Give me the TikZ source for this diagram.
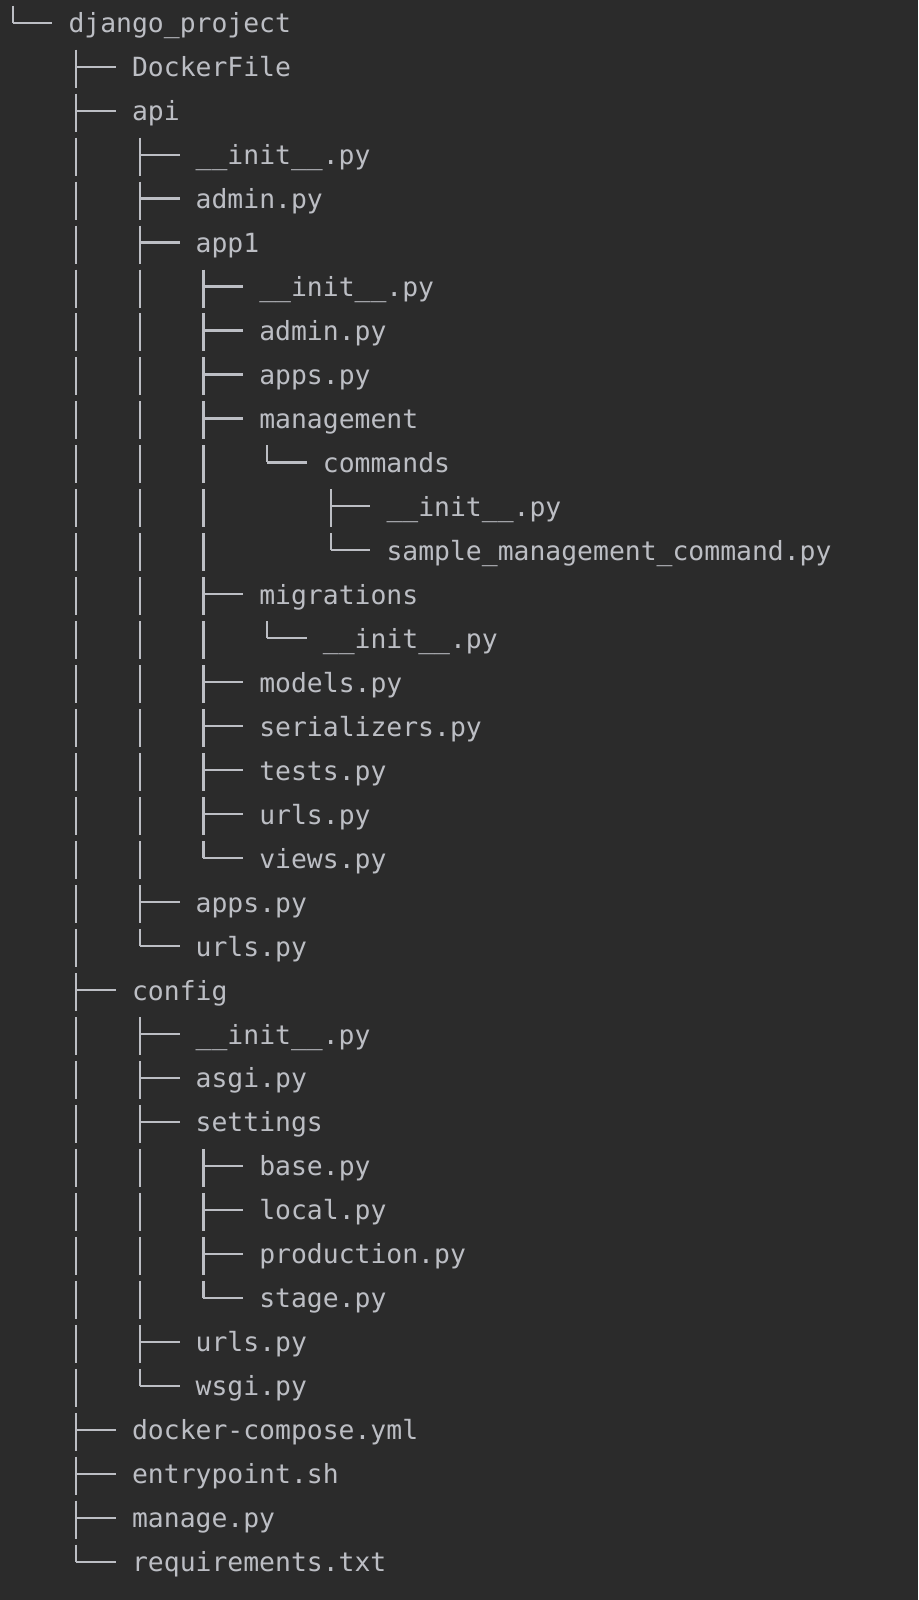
\documentclass[tikz,border=0pt]{standalone}
\usepackage{fontspec}
\setmonofont{DejaVu Sans Mono}
\usepackage{tikz}
\usetikzlibrary{calc}

\definecolor{termbg}{HTML}{2B2B2B}
\definecolor{termfg}{HTML}{BCBEC4}

\begin{document}
\begin{tikzpicture}[x=1pt,y=-1pt,
    entry/.style={anchor=base west,inner sep=0pt,text=termfg,font=\ttfamily\fontsize{26.4}{30}\selectfont},
    treeline/.style={draw=termfg,line width=2.2pt}]
  \fill[termbg] (0,0) rectangle (918,1600);
  \useasboundingbox (0,0) rectangle (918,1600);
  % one column coordinate per tree level
  \foreach \c in {0,...,5}
    \coordinate (c\c) at ({12.65+63.6*\c},0);
  % rows: number / level / bar length (38 tee, 17 last) / text
  \foreach \r/\l/\v/\t in {
      0/0/17/django\_project,
      1/1/38/DockerFile,
      2/1/38/api,
      3/2/38/\_\_init\_\_.py,
      4/2/38/admin.py,
      5/2/38/app1,
      6/3/38/\_\_init\_\_.py,
      7/3/38/admin.py,
      8/3/38/apps.py,
      9/3/38/management,
      10/4/17/commands,
      11/5/38/\_\_init\_\_.py,
      12/5/17/sample\_management\_command.py,
      13/3/38/migrations,
      14/4/17/\_\_init\_\_.py,
      15/3/38/models.py,
      16/3/38/serializers.py,
      17/3/38/tests.py,
      18/3/38/urls.py,
      19/3/17/views.py,
      20/2/38/apps.py,
      21/2/17/urls.py,
      22/1/38/config,
      23/2/38/\_\_init\_\_.py,
      24/2/38/asgi.py,
      25/2/38/settings,
      26/3/38/base.py,
      27/3/38/local.py,
      28/3/38/production.py,
      29/3/17/stage.py,
      30/2/38/urls.py,
      31/2/17/wsgi.py,
      32/1/38/docker-compose.yml,
      33/1/38/entrypoint.sh,
      34/1/38/manage.py,
      35/1/17/requirements.txt} {
    \node[entry] (r\r) at ({4.7+63.6*(\l+1)},{32.7+43.97*\r}) {\t};
    \draw[treeline] ($(r\r.base -| c\l)+(0,-27)$) -- ++(0,\v)
      ($(r\r.base -| c\l)+(0,-10)$) -- ($(r\r.base west)+(-15.9,-10)$);
  }
  % bars of levels that go on past a row
  \foreach \c/\a/\z in {1/3/21,1/23/31,2/6/19,2/26/29,3/10/12,3/14/14}
    \foreach \r in {\a,...,\z}
      \draw[treeline] ($(r\r.base -| c\c)+(0,-27)$) -- ++(0,38);
\end{tikzpicture}
\end{document}
